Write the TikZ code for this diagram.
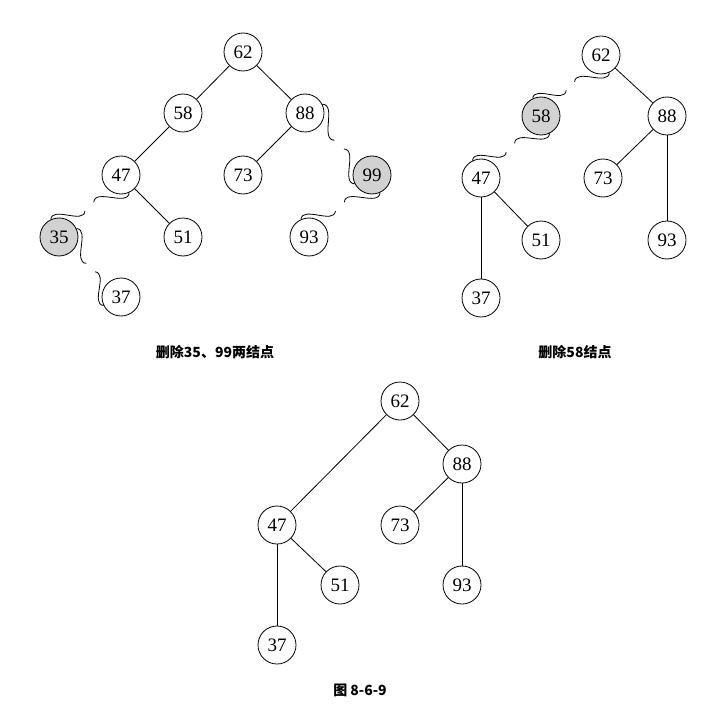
\documentclass[tikz,border=0pt]{standalone}
\usepackage{fontspec}
\setmainfont{Liberation Serif}
\newfontfamily\cjk{Noto Sans CJK SC}
\usetikzlibrary{calc}
\tikzset{
  key/.style={circle, draw, thick, minimum size=38pt, inner sep=0pt, font=\fontsize{19}{19}\selectfont},
  gone/.style={key, fill=gray!35},
  edge/.style={thick},
  caption/.style={font=\cjk\fontsize{14}{14}\selectfont\bfseries}
}
% broken wavy link between two nodes
\newcommand\brk[2]{%
  \coordinate (#1x) at ($(#1)!0.44!(#2)$);
  \coordinate (#2x) at ($(#1)!0.58!(#2)$);
  \draw[edge] (#1) to[relative, out=70, in=-110] (#1x);
  \draw[edge] (#2) to[relative, out=70, in=-110] (#2x);
}
\begin{document}
\begin{tikzpicture}[x=1pt, y=-1pt]
    \useasboundingbox (0,0) rectangle (722,714);

    % first tree
    \node[key]  (a62) at (243,52)  {62};
    \node[key]  (a58) at (183,113) {58};
    \node[key]  (a88) at (305,113) {88};
    \node[key]  (a47) at (121,175) {47};
    \node[key]  (a73) at (243,175) {73};
    \node[gone] (a99) at (372,175) {99};
    \node[gone] (a35) at (59,237)  {35};
    \node[key]  (a51) at (183,237) {51};
    \node[key]  (a93) at (309,237) {93};
    \node[key]  (a37) at (121,297) {37};
    \draw[edge] (a62) -- (a58);
    \draw[edge] (a62) -- (a88);
    \draw[edge] (a58) -- (a47);
    \draw[edge] (a88) -- (a73);
    \draw[edge] (a47) -- (a51);
    \brk{a47}{a35}
    \brk{a35}{a37}
    \brk{a88}{a99}
    \brk{a99}{a93}
    \node[caption] at (215,352) {删除35、99两结点};

    % second tree
    \node[key]  (b62) at (601,55)  {62};
    \node[gone] (b58) at (541,116) {58};
    \node[key]  (b88) at (667,116) {88};
    \node[key]  (b47) at (481,178) {47};
    \node[key]  (b73) at (603,178) {73};
    \node[key]  (b51) at (541,240) {51};
    \node[key]  (b93) at (667,240) {93};
    \node[key]  (b37) at (481,298) {37};
    \draw[edge] (b62) -- (b88);
    \draw[edge] (b88) -- (b73);
    \draw[edge] (b88) -- (b93);
    \draw[edge] (b47) -- (b51);
    \draw[edge] (b47) -- (b37);
    \brk{b62}{b58}
    \brk{b58}{b47}
    \node[caption] at (575,352) {删除58结点};

    % result
    \node[key] (c62) at (400,401) {62};
    \node[key] (c88) at (462,464) {88};
    \node[key] (c47) at (277,525) {47};
    \node[key] (c73) at (400,525) {73};
    \node[key] (c51) at (340,585) {51};
    \node[key] (c93) at (462,585) {93};
    \node[key] (c37) at (277,645) {37};
    \draw[edge] (c62) -- (c88);
    \draw[edge] (c62) -- (c47);
    \draw[edge] (c88) -- (c73);
    \draw[edge] (c88) -- (c93);
    \draw[edge] (c47) -- (c51);
    \draw[edge] (c47) -- (c37);
    \node[caption] at (360,690) {图 8-6-9};
\end{tikzpicture}
\end{document}
